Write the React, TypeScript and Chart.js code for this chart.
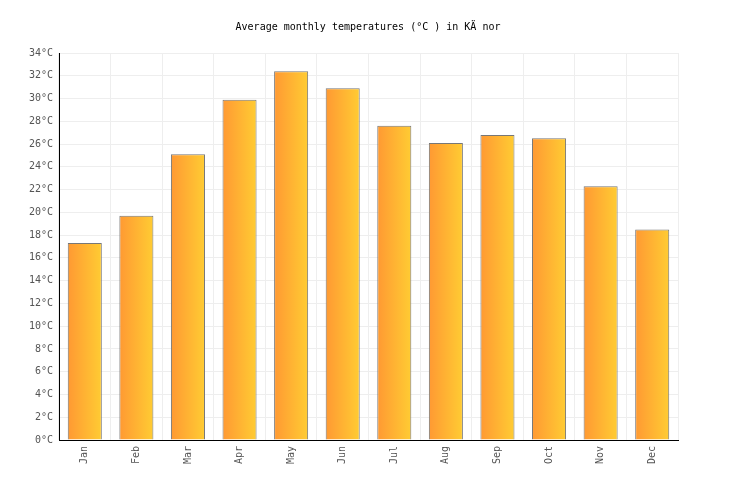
import React, { useEffect, useRef } from 'react';
import Chart from 'chart.js/auto';

// 월별 평균 기온
const months = ['Jan', 'Feb', 'Mar', 'Apr', 'May', 'Jun', 'Jul', 'Aug', 'Sep', 'Oct', 'Nov', 'Dec'];
const temps = [17.3, 19.7, 25.1, 29.9, 32.4, 30.9, 27.6, 26.1, 26.8, 26.5, 22.3, 18.5];
const yMax = 34;
const yStep = 2;
const titleText = 'Average monthly temperatures (°C ) in KÄ nor';

const FONT = '"DejaVu Sans Mono", monospace';
const BAR_PCT = 0.66;

// 막대마다 왼쪽→오른쪽 그라데이션 적용 (공유 옵션이라 복사해서 교체)
const barGradient = {
  id: 'barGradient',
  beforeDatasetsDraw(chart: any) {
    const meta = chart.getDatasetMeta(0);
    meta.data.forEach((el: any) => {
      const half = el.width / 2;
      if (!Number.isFinite(el.x) || !Number.isFinite(half)) return;
      const g = chart.ctx.createLinearGradient(el.x - half, 0, el.x + half, 0);
      g.addColorStop(0, '#FF9933');
      g.addColorStop(1, '#FFCC33');
      el.options = Object.assign({}, el.options, { backgroundColor: g });
    });
  },
};

const App: React.FC = () => {
  const canvasRef = useRef<HTMLCanvasElement>(null);
  const chartRef = useRef<Chart | null>(null);

  useEffect(() => {
    if (!canvasRef.current) return;
    if (chartRef.current) chartRef.current.destroy();
    const ctx = canvasRef.current.getContext('2d')!;

    chartRef.current = new Chart(ctx, {
      type: 'bar',
      data: {
        labels: months,
        datasets: [{
          label: 'Temperature',
          data: temps,
          backgroundColor: '#FFB233',
          borderColor: '#777777',
          borderWidth: 1,
          barPercentage: BAR_PCT,
          categoryPercentage: 1,
        }],
      },
      plugins: [barGradient],
      options: {
        responsive: true,
        maintainAspectRatio: false,
        animation: false,
        plugins: {
          legend: { display: false },
          tooltip: { enabled: false },
          title: {
            display: true,
            text: titleText,
            color: '#000',
            font: { family: FONT, size: 10, weight: 'normal' },
            padding: { top: 21, bottom: 20 },
          },
        },
        scales: {
          x: {
            grid: { color: '#eeeeee', drawTicks: false, offset: true },
            border: { color: '#000', width: 1 },
            ticks: {
              color: '#555',
              font: { family: FONT, size: 10 },
              minRotation: 90,
              maxRotation: 90,
              padding: 6,
            },
            afterFit: (s: any) => { s.height = 60; },
          },
          y: {
            min: 0,
            max: yMax,
            grid: { color: '#eeeeee', drawTicks: false },
            border: { color: '#000', width: 1 },
            ticks: {
              stepSize: yStep,
              color: '#555',
              font: { family: FONT, size: 10 },
              padding: 6,
              callback: (v: any) => v + '°C',
            },
            afterFit: (s: any) => { s.width = 59; },
          },
          // 오른쪽 여백용 빈 축 (제목이 전체 폭 가운데 오도록)
          yRight: {
            position: 'right',
            min: 0,
            max: yMax,
            grid: { display: false, drawOnChartArea: false },
            border: { display: false },
            ticks: { display: false },
            afterFit: (s: any) => { s.width = 58; },
          },
        },
      },
    });

    return () => {
      chartRef.current?.destroy();
      chartRef.current = null;
    };
  }, []);

  return (
    <div style={{ position: 'absolute', left: 0, top: 0, width: 736, height: 500, background: '#fff' }}>
      <canvas ref={canvasRef} />
    </div>
  );
};

export default App;
